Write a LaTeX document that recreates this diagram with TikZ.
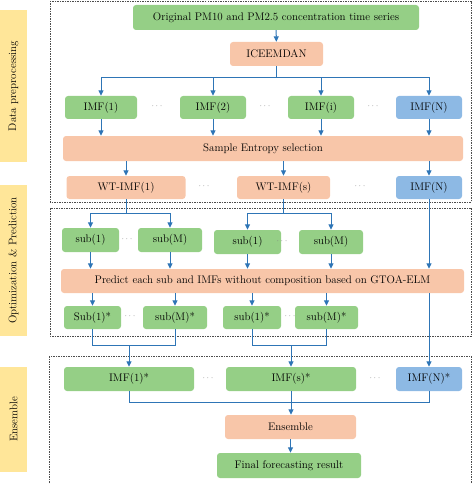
\documentclass[tikz,border=0pt]{standalone}
\usetikzlibrary{positioning,arrows.meta,calc}
\definecolor{leaf}{HTML}{95CF86}
\definecolor{salmon}{HTML}{F8C6A9}
\definecolor{sky}{HTML}{8DB9E4}
\definecolor{flow}{HTML}{2E75B6}
\definecolor{band}{HTML}{FFE699}

\begin{document}
\begin{tikzpicture}[
  x=1pt, y=-1pt,
  bx/.style={rounded corners=3pt, minimum height=24pt, inner sep=1pt, align=center,
             font=\fontsize{11}{13}\selectfont},
  gbox/.style={bx, fill=leaf},
  obox/.style={bx, fill=salmon},
  bbox/.style={bx, fill=sky},
  arr/.style={-{Triangle[length=5.5pt,width=5pt]}, flow, line width=1pt},
  lnk/.style={flow, line width=1pt},
  frame/.style={draw=black!70, dash pattern=on 1.5pt off 1pt, line width=0.8pt},
  tag/.style={fill=band, inner sep=0pt, font=\fontsize{11}{13}\selectfont},
  dots/.style={font=\small, black!50},
]
  \useasboundingbox (0,0) rectangle (474,484);

  % Stage frames and side tags
  \draw[frame] (50,1) rectangle (471,202);
  \draw[frame] (50,208) rectangle (471,336);
  \draw[frame] (49,356) rectangle (471,492);
  \node[tag, rotate=90, minimum width=152pt, minimum height=27pt] (tpre) at (13.5,86) {Data preprocessing};
  \node[tag, rotate=90, minimum width=151pt, minimum height=27pt] (topt) at (13.5,260.5) {Optimization \& Prediction};
  \node[tag, rotate=90, minimum width=105pt, minimum height=27pt] (tens) at (13.5,419.5) {Ensemble};

  % Data preprocessing
  \node[gbox, minimum width=286pt, minimum height=25pt] (orig) at (276,17.5) {Original PM10 and PM2.5 concentration time series};
  \node[obox, minimum width=93pt] (ice) at (276.5,54) {ICEEMDAN};
  \node[gbox, minimum width=72pt, minimum height=23pt] (imf1) at (101,107.5) {IMF(1)};
  \node[gbox, minimum width=66pt, minimum height=23pt] (imf2) at (213,107.5) {IMF(2)};
  \node[gbox, minimum width=66pt, minimum height=23pt] (imfi) at (321,107.5) {IMF(i)};
  \node[bbox, minimum width=66pt, minimum height=23pt] (imfn) at (429,107.5) {IMF(N)};
  \node[dots] (d1) at (157,106) {$\cdots$};
  \node[dots] (d2) at (265,106) {$\cdots$};
  \node[dots] (d3) at (373,106) {$\cdots$};
  \node[obox, minimum width=400pt, minimum height=25pt] (se) at (263,148.5) {Sample Entropy selection};
  \node[obox, minimum width=119pt, minimum height=23pt] (wt1) at (126,187.5) {WT-IMF(1)};
  \node[obox, minimum width=93pt, minimum height=23pt] (wts) at (283.5,187.5) {WT-IMF(s)};
  \node[bbox, minimum width=66pt, minimum height=23pt] (imfn2) at (429,187.5) {IMF(N)};
  \node[dots] (d4) at (204,186) {$\cdots$};
  \node[dots] (d5) at (360,186) {$\cdots$};

  % Optimization & Prediction
  \node[gbox, minimum width=57pt] (sa1) at (90.5,240) {sub(1)};
  \node[gbox, minimum width=64pt] (saM) at (170,240) {sub(M)};
  \node[gbox, minimum width=67pt] (sb1) at (247.5,242) {sub(1)};
  \node[gbox, minimum width=64pt] (sbM) at (331,242) {sub(M)};
  \node[dots] (d6) at (127,239) {$\cdots$};
  \node[dots] (d7) at (282,241) {$\cdots$};
  \node[obox, minimum width=403pt] (pr) at (262.5,281) {Predict each sub and IMFs without composition based on GTOA-ELM};
  \node[gbox, minimum width=57pt, minimum height=23pt] (sa1s) at (92.5,317.5) {Sub(1)*};
  \node[gbox, minimum width=64pt, minimum height=23pt] (saMs) at (175,317.5) {sub(M)*};
  \node[gbox, minimum width=58pt, minimum height=23pt] (sb1s) at (252,317.5) {sub(1)*};
  \node[gbox, minimum width=63pt, minimum height=23pt] (sbMs) at (326.5,317.5) {sub(M)*};
  \node[dots] (d8) at (130,316) {$\cdots$};
  \node[dots] (d9) at (290,316) {$\cdots$};

  % Ensemble
  \node[gbox, minimum width=130pt] (imf1s) at (129,379) {IMF(1)*};
  \node[gbox, minimum width=130pt] (imfss) at (291,379) {IMF(s)*};
  \node[bbox, minimum width=66pt] (imfns) at (429,379) {IMF(N)*};
  \node[dots] (d10) at (208,378) {$\cdots$};
  \node[dots] (d11) at (375,378) {$\cdots$};
  \node[obox, minimum width=131pt] (ens) at (290.5,427) {Ensemble};
  \node[gbox, minimum width=144pt, minimum height=25pt] (fin) at (289,465.5) {Final forecasting result};

  % connectors
  \coordinate (fork) at (0,78);
  \coordinate (split) at (0,213);
  \coordinate (join) at (0,345);
  \coordinate (merge) at (0,402);

  \draw[arr] (orig) -- (ice);
  \foreach \n in {imf1,imf2,imfi,imfn}
    \draw[arr] (ice.south) |- (fork -| \n) -- (\n);
  \foreach \n in {imf1,imf2,imfi,imfn}
    \draw[arr] (\n) -- (\n |- se.north);
  \foreach \n in {wt1,wts,imfn2}
    \draw[arr] (se.south -| \n) -- (\n);

  \foreach \s/\t in {wt1/sa1,wt1/saM,wts/sb1,wts/sbM}
    \draw[arr] (\s.south) |- (split -| \t) -- (\t);
  \foreach \n in {sa1,saM,sb1,sbM,imfn2}
    \draw[arr] (\n) -- (\n |- pr.north);
  \foreach \n in {sa1s,saMs,sb1s,sbMs,imfns}
    \draw[arr] (pr.south -| \n) -- (\n);

  \foreach \s/\t in {sa1s/imf1s,saMs/imf1s,sb1s/imfss,sbMs/imfss}
    \draw[lnk] (\s.south) |- (join -| \t);
  \foreach \t in {imf1s,imfss}
    \draw[arr] (join -| \t) -- (\t);

  \foreach \s in {imf1s,imfns}
    \draw[lnk] (\s.south) |- (merge -| ens);
  \draw[arr] (imfss) -- (imfss |- ens.north);
  \draw[arr] (ens) -- (ens |- fin.north);
\end{tikzpicture}
\end{document}
